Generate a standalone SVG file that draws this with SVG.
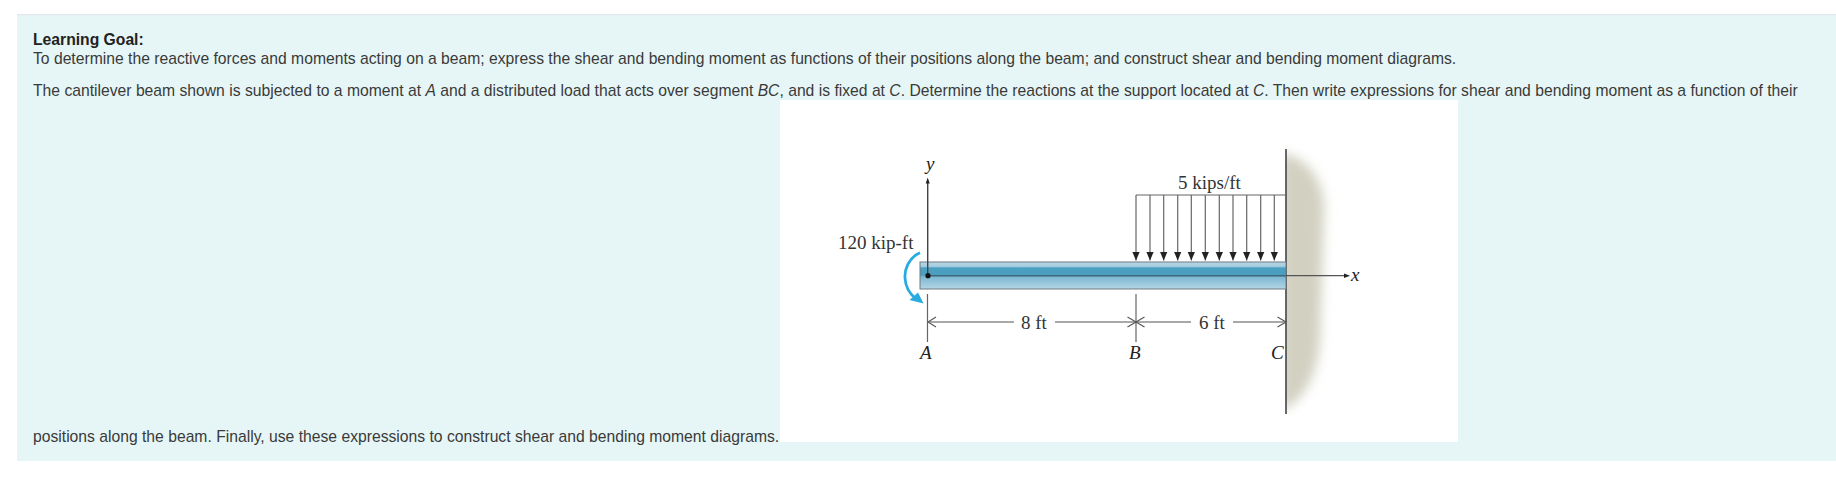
<svg xmlns="http://www.w3.org/2000/svg" width="1836" height="481" viewBox="0 0 1836 481">
<style>
.t{font-family:"Liberation Sans",Arial,sans-serif;font-size:15.7px;fill:#3a3a3a}
.b{font-weight:bold;fill:#222}
.i{font-style:italic}
.s{font-family:"Liberation Serif","Times New Roman",serif;font-size:19px;fill:#333}
.si{font-family:"Liberation Serif","Times New Roman",serif;font-size:19px;font-style:italic;fill:#222}
.ln{stroke:#666;stroke-width:1.2;fill:none}
.dk{stroke:#444;stroke-width:1.4;fill:none}
.op{stroke:#555;stroke-width:1.1;fill:none}
</style>
<defs>
<linearGradient id="beam" x1="0" y1="0" x2="0" y2="1">
<stop offset="0" stop-color="#b6d5e4"/><stop offset=".16" stop-color="#a9cfe0"/>
<stop offset=".22" stop-color="#4ca0c2"/><stop offset=".48" stop-color="#4a9dbe"/>
<stop offset=".56" stop-color="#7db8d2"/><stop offset="1" stop-color="#b4d5e5"/>
</linearGradient>
<marker id="dn" markerUnits="userSpaceOnUse" markerWidth="9" markerHeight="8" refX="8.500" refY="4" orient="auto" viewBox="0 0 9 8"><path d="M0 .4L8.500 4L0 7.600Z" fill="#222"/></marker>
<filter id="soft" x="-30%" y="-10%" width="160%" height="120%"><feGaussianBlur stdDeviation="6"/></filter>
<clipPath id="wallclip"><rect x="1286" y="140" width="70" height="280"/></clipPath>
</defs>
<rect id="panel" x="17" y="14" width="1819" height="447" fill="#e6f6f6"/>
<rect x="17" y="14" width="1819" height="1.2" fill="#e3e7ec"/>
<g id="text">
<text class="t b" x="33" y="45">Learning Goal:</text>
<text class="t" x="33" y="64">To determine the reactive forces and moments acting on a beam; express the shear and bending moment as functions of their positions along the beam; and construct shear and bending moment diagrams.</text>
<text class="t" x="33" y="96">The cantilever beam shown is subjected to a moment at <tspan class="i">A</tspan> and a distributed load that acts over segment <tspan class="i">BC</tspan>, and is fixed at <tspan class="i">C</tspan>. Determine the reactions at the support located at <tspan class="i">C</tspan>. Then write expressions for shear and bending moment as a function of their</text>
<text class="t" x="33" y="442">positions along the beam. Finally, use these expressions to construct shear and bending moment diagrams.</text>
</g>
<rect id="figure" x="780" y="100" width="678" height="342" fill="#fff"/>
<g id="wall">
<g clip-path="url(#wallclip)">
<path d="M1280 153C1304 156 1323 176 1324 208L1320 338C1318 376 1302 404 1280 410Z" fill="#d1d0c1" filter="url(#soft)"/>
</g>
<line class="dk" x1="1286" y1="149" x2="1286" y2="414" style="stroke-width:1.6"/>
</g>
<g id="beam-body">
<rect x="920" y="262" width="366" height="27" fill="url(#beam)" stroke="#6f7b80" stroke-width="1"/>
</g>
<g id="connectors">
<line x1="928" y1="275.700" x2="1286" y2="275.700" stroke="#42687a" stroke-width="1.400"/>
<line x1="1286" y1="275.700" x2="1345" y2="275.700" stroke="#555" stroke-width="1.200"/>
<path d="M1350 275.700L1344 273.400V278Z" fill="#222"/>
<line class="dk" x1="927.700" y1="276" x2="927.700" y2="182"/>
<path d="M927.700 177.500L925.700 183.500H929.700Z" fill="#222"/>
<circle cx="928" cy="275.700" r="2.600" fill="#111"/>
<path d="M920 252.700C908 258 904.500 270 905 278C905.500 286 909 293 915 298" fill="none" stroke="#29abe2" stroke-width="2.800"/>
<path d="M923.500 303.500L909.500 300L918 292.500Z" fill="#29abe2"/>
<path class="ln" d="M1136 195H1286"/>
<g class="ln">
<line x1="1136" y1="195" x2="1136" y2="260.500" marker-end="url(#dn)"/>
<line x1="1150" y1="195" x2="1150" y2="260.500" marker-end="url(#dn)"/>
<line x1="1163.700" y1="195" x2="1163.700" y2="260.500" marker-end="url(#dn)"/>
<line x1="1177.700" y1="195" x2="1177.700" y2="260.500" marker-end="url(#dn)"/>
<line x1="1191.300" y1="195" x2="1191.300" y2="260.500" marker-end="url(#dn)"/>
<line x1="1205.300" y1="195" x2="1205.300" y2="260.500" marker-end="url(#dn)"/>
<line x1="1219.300" y1="195" x2="1219.300" y2="260.500" marker-end="url(#dn)"/>
<line x1="1233" y1="195" x2="1233" y2="260.500" marker-end="url(#dn)"/>
<line x1="1246.700" y1="195" x2="1246.700" y2="260.500" marker-end="url(#dn)"/>
<line x1="1260.700" y1="195" x2="1260.700" y2="260.500" marker-end="url(#dn)"/>
<line x1="1274.300" y1="195" x2="1274.300" y2="260.500" marker-end="url(#dn)"/>
</g>
<path class="ln" d="M927.500 294V342M1136 294V342"/>
<path class="op" d="M928 322H1014M1055 322H1136M1136 322H1191M1233 322H1286"/>
<path class="op" d="M936 317L928 322L936 327M1127.500 317L1136 322L1127.500 327M1144.500 317L1136 322L1144.500 327M1277.500 317L1286 322L1277.500 327"/>
</g>
<g id="labels">
<text class="s" x="838" y="249">120 kip-ft</text>
<text class="si" x="926" y="170">y</text>
<text class="s" x="1178" y="189">5 kips/ft</text>
<text class="s" x="1021" y="329">8 ft</text>
<text class="s" x="1199" y="329">6 ft</text>
<text class="si" x="1351" y="281">x</text>
<text class="si" x="920" y="359">A</text>
<text class="si" x="1129" y="359">B</text>
<text class="si" x="1271" y="359">C</text>
</g>
</svg>
